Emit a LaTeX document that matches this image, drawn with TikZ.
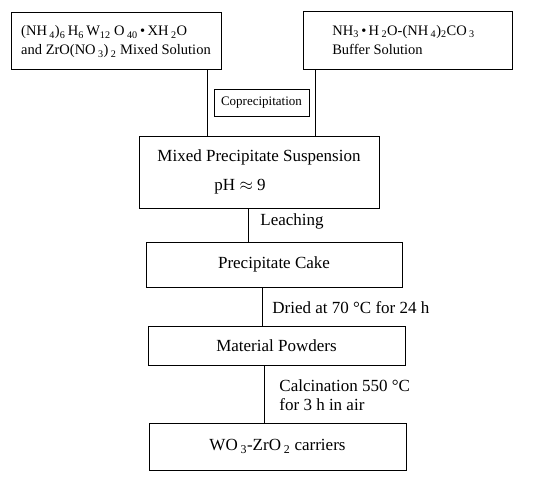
\documentclass[tikz,border=0pt]{standalone}
\usepackage{fontspec}
\setmainfont{Liberation Serif}

\begin{document}
\begin{tikzpicture}[x=1pt,y=-1pt,line width=0.9pt,
  stepbox/.style={draw,rectangle,align=left,inner sep=0pt},
  tag/.style={anchor=west,align=left,inner sep=0pt,font=\fontsize{17}{19}\selectfont}]

\useasboundingbox (0,0) rectangle (550,480);

% Draw the boxes
\node[stepbox,minimum width=210,minimum height=57,font=\fontsize{14.5}{19}\selectfont] (sol) at (116,40.5)
  {\rule{0pt}{13pt}(NH\,\textsubscript{4})\textsubscript{6}\,H\textsubscript{6}\,W\textsubscript{12} O\,\textsubscript{40}\,•\,XH\,\textsubscript{2}O\\
   and ZrO(NO\,\textsubscript{3})\,\textsubscript{2} Mixed Solution};
\node[stepbox,minimum width=209,minimum height=58,font=\fontsize{14.5}{19}\selectfont] (buf) at (407.5,40)
  {NH\textsubscript{3}\,•\,H\,\textsubscript{2}O-(NH\,\textsubscript{4})\textsubscript{2}CO\,\textsubscript{3}\\
   Buffer Solution\hspace*{60pt}};
\node[stepbox,minimum width=95,minimum height=27,font=\fontsize{13}{15}\selectfont] (copre) at (261.5,102.5) {Coprecipitation};
\node[stepbox,minimum width=240,minimum height=72,font=\fontsize{17}{29}\selectfont] (mix) at (259,172)
  {Mixed Precipitate Suspension\\ \hspace*{57pt}pH $\approx$ 9};
\node[stepbox,minimum width=256,minimum height=45,font=\fontsize{17}{19}\selectfont] (cake) at (274,264.5) {Precipitate Cake};
\node[stepbox,minimum width=257,minimum height=39,font=\fontsize{17}{19}\selectfont] (powder) at (276.5,345.5) {Material Powders};
\node[stepbox,minimum width=257,minimum height=47,font=\fontsize{17}{19}\selectfont] (carrier) at (277.5,446.5) {WO\,\textsubscript{3}-ZrO\,\textsubscript{2} carriers};

% Draw the lines
\coordinate (lsol) at (207,0);
\coordinate (lbuf) at (315,0);
\coordinate (lmix) at (248,0);
\coordinate (lcake) at (262,0);
\coordinate (lpow) at (264,0);
\draw (sol.south -| lsol) -- (mix.north -| lsol);
\draw (buf.south -| lbuf) -- (mix.north -| lbuf);
\draw (mix.south -| lmix) -- (cake.north -| lmix);
\draw (cake.south -| lcake) -- (powder.north -| lcake);
\draw (powder.south -| lpow) -- (carrier.north -| lpow);

% Draw the labels
\node[tag] (leach) at (260,221) {Leaching};
\node[tag] (dry) at (272,308) {Dried at 70 °C for 24 h};
\node[tag] (calc) at (279,395.5) {Calcination 550 °C\\for 3 h in air};

\end{tikzpicture}
\end{document}
